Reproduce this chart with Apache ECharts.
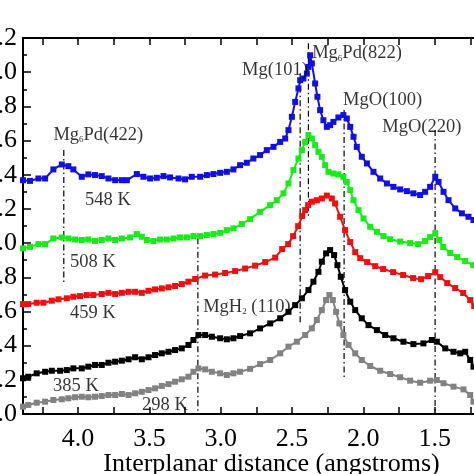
<!DOCTYPE html>
<html>
<head>
<meta charset="utf-8">
<script src="https://cdn.jsdelivr.net/npm/echarts@6/dist/echarts.min.js"></script>
<style>
html, body { margin: 0; padding: 0; background: #fff; }
#chart { width: 474px; height: 474px; }
</style>
</head>
<body>
<div id="chart"></div>
<script>
// [d (angstrom), intensity]
const blue548 = [[4.386,1.368],[4.337,1.364],[4.278,1.378],[4.231,1.378],[4.173,1.431],[4.114,1.460],[4.068,1.450],[4.033,1.431],[3.974,1.388],[3.928,1.402],[3.881,1.398],[3.834,1.392],[3.787,1.378],[3.740,1.368],[3.693,1.368],[3.658,1.368],[3.588,1.404],[3.542,1.388],[3.495,1.378],[3.448,1.382],[3.401,1.392],[3.355,1.384],[3.296,1.378],[3.250,1.373],[3.203,1.388],[3.144,1.388],[3.097,1.398],[3.051,1.404],[3.004,1.411],[2.957,1.417],[2.911,1.431],[2.864,1.456],[2.817,1.470],[2.771,1.495],[2.724,1.515],[2.677,1.544],[2.630,1.563],[2.583,1.592],[2.548,1.612],[2.525,1.661],[2.501,1.739],[2.478,1.826],[2.455,1.905],[2.443,1.953],[2.420,1.963],[2.396,1.992],[2.385,2.031],[2.373,2.099],[2.361,2.051],[2.338,1.934],[2.322,1.856],[2.303,1.778],[2.280,1.719],[2.256,1.680],[2.233,1.690],[2.210,1.709],[2.175,1.735],[2.140,1.749],[2.116,1.729],[2.092,1.680],[2.069,1.622],[2.046,1.563],[2.011,1.505],[1.975,1.466],[1.929,1.417],[1.882,1.378],[1.835,1.349],[1.789,1.329],[1.742,1.314],[1.695,1.304],[1.649,1.291],[1.602,1.281],[1.567,1.300],[1.532,1.329],[1.496,1.388],[1.473,1.358],[1.438,1.300],[1.403,1.251],[1.356,1.203],[1.309,1.174],[1.263,1.154],[1.228,1.135]];

const green508 = [[4.386,0.969],[4.337,0.978],[4.278,0.994],[4.231,0.994],[4.173,1.027],[4.114,1.033],[4.068,1.027],[4.021,1.021],[3.974,1.018],[3.928,1.021],[3.881,1.013],[3.834,1.018],[3.787,1.027],[3.740,1.018],[3.693,1.027],[3.635,1.033],[3.588,1.053],[3.553,1.037],[3.518,1.018],[3.472,1.012],[3.425,1.021],[3.378,1.021],[3.331,1.027],[3.285,1.033],[3.238,1.033],[3.191,1.041],[3.144,1.041],[3.097,1.047],[3.051,1.053],[3.004,1.060],[2.957,1.076],[2.911,1.086],[2.852,1.112],[2.794,1.140],[2.724,1.183],[2.653,1.222],[2.607,1.251],[2.560,1.291],[2.525,1.349],[2.490,1.427],[2.455,1.495],[2.431,1.544],[2.408,1.592],[2.385,1.632],[2.361,1.612],[2.338,1.573],[2.315,1.534],[2.291,1.505],[2.268,1.456],[2.245,1.417],[2.210,1.407],[2.175,1.402],[2.140,1.388],[2.116,1.358],[2.092,1.310],[2.069,1.251],[2.034,1.193],[1.999,1.144],[1.952,1.095],[1.905,1.066],[1.859,1.041],[1.812,1.023],[1.742,1.009],[1.672,1.000],[1.616,0.994],[1.567,1.012],[1.532,1.035],[1.496,1.058],[1.468,1.018],[1.440,0.977],[1.391,0.942],[1.342,0.918],[1.286,0.895],[1.230,0.871]];

const red459 = [[4.386,0.643],[4.349,0.643],[4.290,0.651],[4.243,0.651],[4.184,0.663],[4.137,0.671],[4.079,0.677],[4.033,0.686],[3.986,0.690],[3.939,0.696],[3.893,0.696],[3.834,0.702],[3.787,0.709],[3.740,0.702],[3.693,0.709],[3.646,0.715],[3.600,0.715],[3.553,0.709],[3.506,0.721],[3.460,0.729],[3.413,0.735],[3.366,0.741],[3.320,0.749],[3.273,0.760],[3.226,0.774],[3.179,0.790],[3.109,0.810],[3.039,0.816],[2.969,0.825],[2.899,0.836],[2.829,0.851],[2.759,0.868],[2.688,0.889],[2.618,0.915],[2.569,0.965],[2.527,0.994],[2.492,1.041],[2.457,1.099],[2.429,1.158],[2.408,1.193],[2.387,1.222],[2.361,1.242],[2.326,1.251],[2.291,1.261],[2.256,1.278],[2.221,1.261],[2.198,1.232],[2.163,1.154],[2.128,1.076],[2.092,1.006],[2.057,0.947],[2.022,0.912],[1.973,0.889],[1.917,0.865],[1.861,0.848],[1.791,0.830],[1.721,0.813],[1.651,0.795],[1.595,0.789],[1.546,0.807],[1.496,0.830],[1.461,0.801],[1.412,0.766],[1.356,0.737],[1.300,0.708],[1.251,0.667],[1.223,0.632]];

const black385 = [[4.386,0.209],[4.349,0.218],[4.290,0.238],[4.231,0.247],[4.184,0.253],[4.126,0.253],[4.079,0.257],[4.033,0.267],[3.974,0.267],[3.928,0.277],[3.881,0.287],[3.834,0.287],[3.787,0.300],[3.740,0.306],[3.693,0.312],[3.646,0.320],[3.600,0.332],[3.553,0.320],[3.506,0.332],[3.460,0.345],[3.413,0.355],[3.366,0.364],[3.320,0.374],[3.273,0.384],[3.226,0.404],[3.191,0.433],[3.156,0.462],[3.109,0.462],[3.062,0.452],[3.004,0.443],[2.957,0.437],[2.911,0.443],[2.864,0.456],[2.794,0.472],[2.724,0.501],[2.653,0.530],[2.583,0.560],[2.525,0.598],[2.478,0.637],[2.431,0.677],[2.385,0.725],[2.350,0.774],[2.315,0.832],[2.291,0.891],[2.261,0.940],[2.233,0.959],[2.205,0.930],[2.182,0.871],[2.158,0.803],[2.128,0.725],[2.092,0.657],[2.057,0.608],[2.011,0.560],[1.964,0.520],[1.905,0.491],[1.847,0.462],[1.789,0.443],[1.719,0.423],[1.649,0.409],[1.579,0.413],[1.520,0.433],[1.485,0.423],[1.426,0.384],[1.368,0.364],[1.321,0.355],[1.286,0.364],[1.251,0.316],[1.228,0.277]];

const gray298 = [[4.386,0.043],[4.349,0.053],[4.290,0.066],[4.231,0.072],[4.173,0.082],[4.114,0.086],[4.068,0.092],[4.021,0.098],[3.974,0.101],[3.928,0.098],[3.881,0.101],[3.834,0.105],[3.787,0.111],[3.740,0.111],[3.693,0.117],[3.646,0.111],[3.600,0.121],[3.553,0.130],[3.506,0.140],[3.460,0.150],[3.413,0.164],[3.366,0.175],[3.320,0.189],[3.273,0.203],[3.226,0.218],[3.191,0.247],[3.156,0.267],[3.109,0.261],[3.062,0.247],[3.004,0.238],[2.957,0.228],[2.911,0.238],[2.864,0.247],[2.794,0.264],[2.724,0.292],[2.653,0.316],[2.583,0.355],[2.525,0.394],[2.466,0.423],[2.408,0.462],[2.361,0.501],[2.326,0.550],[2.291,0.608],[2.261,0.667],[2.238,0.696],[2.214,0.667],[2.191,0.598],[2.168,0.530],[2.140,0.462],[2.104,0.404],[2.057,0.355],[2.011,0.316],[1.952,0.281],[1.882,0.253],[1.812,0.234],[1.742,0.215],[1.672,0.195],[1.602,0.183],[1.532,0.195],[1.485,0.199],[1.438,0.180],[1.368,0.160],[1.298,0.144],[1.251,0.111],[1.228,0.072]];

// dash-dot marker lines: [d, yTop, yBottom]
const peakLines = [[4.10,1.544,0.766],[3.16,1.029,0],[2.443,1.994,0.532],[2.385,2.170,1.146],[2.135,1.778,0.199],[1.497,1.661,0]];

// text annotations: [rich text, d of left edge, y]
const peakLabels = [
    ['Mg{s|6}Pd(422)', 4.173, 1.632],
    ['Mg(101)', 2.850, 2.012],
    ['Mg{s|6}Pd(822)', 2.359, 2.111],
    ['MgO(100)', 2.142, 1.836],
    ['MgO(220)', 1.868, 1.678],
    ['MgH{s|2} (110)', 3.123, 0.626],
    ['548 K', 3.951, 1.251],
    ['508 K', 4.056, 0.889],
    ['459 K', 4.056, 0.591],
    ['385 K', 4.175, 0.164],
    ['298 K', 3.551, 0.053]
];

const serif = 'Liberation Serif';

function curve(name, data, color) {
    return {
        name: name,
        type: 'line',
        data: data,
        symbol: 'rect',
        symbolSize: 6,
        showAllSymbol: true,
        itemStyle: {color: color},
        lineStyle: {color: color, width: 2},
        z: 3
    };
}

let series = [
    curve('548 K', blue548, '#1010e6'),
    curve('508 K', green508, '#18ec18'),
    curve('459 K', red459, '#ee1010'),
    curve('385 K', black385, '#000000'),
    curve('298 K', gray298, '#828282')
];

// 参考线 (点划线)
peakLines.forEach(function (l) {
    series.push({
        type: 'line',
        data: [[l[0], l[1]], [l[0], l[2]]],
        symbol: 'none',
        silent: true,
        lineStyle: {color: '#000', width: 1.2, type: [6, 3, 1.5, 3]},
        z: 2
    });
});

// 标注文字
series.push({
    type: 'scatter',
    symbolSize: 0,
    silent: true,
    z: 4,
    data: peakLabels.map(function (p) {
        return {value: [p[1], p[2]], label: {formatter: p[0]}};
    }),
    label: {
        show: true,
        position: 'right',
        distance: 0,
        color: '#000',
        fontFamily: serif,
        fontSize: 18.5,
        rich: {
            s: {fontSize: 9, fontFamily: serif, color: '#000', verticalAlign: 'bottom', padding: [10, 0, 0, 0]}
        }
    }
});

const tickLabelStyle = {color: '#000', fontFamily: serif, fontSize: 26};

let option = {
    animation: false,
    backgroundColor: '#fff',
    grid: {left: 23, top: 38, bottom: 60, right: -32, outerBoundsMode: 'none', containLabel: false},
    xAxis: [
        {
            type: 'value',
            inverse: true,
            min: 1.0,
            max: 4.386,
            interval: 0.25,
            name: 'Interplanar distance (angstroms)',
            nameLocation: 'middle',
            nameGap: 37,
            nameMoveOverlap: false,
            nameTextStyle: {color: '#000', fontFamily: serif, fontSize: 26, padding: [0, 0, 0, 14]},
            axisLine: {onZero: false, lineStyle: {color: '#000', width: 2}},
            axisTick: {inside: true, length: 7, lineStyle: {color: '#000', width: 1.5}},
            axisLabel: Object.assign({
                margin: 12,
                formatter: function (v) {
                    return (Math.abs(v * 2 - Math.round(v * 2)) < 1e-6 && v <= 4.0) ? v.toFixed(1) : '';
                }
            }, tickLabelStyle),
            splitLine: {show: false}
        },
        {
            type: 'value',
            position: 'top',
            inverse: true,
            min: 1.0,
            max: 4.386,
            interval: 0.25,
            axisLine: {onZero: false, lineStyle: {color: '#000', width: 2}},
            axisTick: {inside: true, length: 7, lineStyle: {color: '#000', width: 1.5}},
            axisLabel: {show: false},
            splitLine: {show: false}
        }
    ],
    yAxis: {
        type: 'value',
        min: 0,
        max: 2.2,
        interval: 0.2,
        axisLine: {show: true, onZero: false, lineStyle: {color: '#000', width: 2}},
        axisTick: {inside: true, length: 8, lineStyle: {color: '#000', width: 1.5}},
        minorTick: {show: true, splitNumber: 2, length: 4, lineStyle: {color: '#000', width: 1.5}},
        axisLabel: Object.assign({margin: 6, formatter: function (v) { return v.toFixed(1); }}, tickLabelStyle),
        splitLine: {show: false}
    },
    series: series
};

let chart = echarts.init(document.getElementById('chart'), null, {renderer: 'canvas'});
chart.setOption(option);
</script>
</body>
</html>
